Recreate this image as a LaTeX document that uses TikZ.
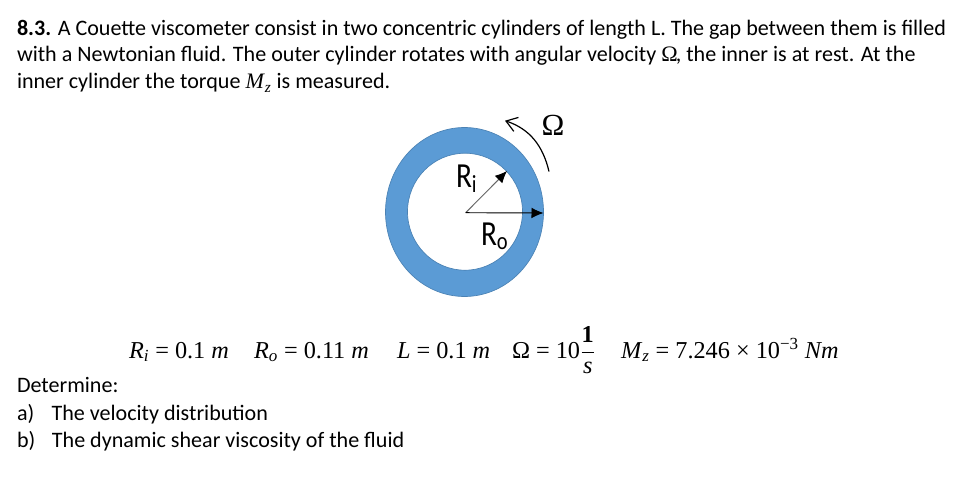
\documentclass[tikz,border=0pt]{standalone}
\usepackage{amsmath}
\usepackage{fontspec}
\usepackage{tikz}
\usetikzlibrary{arrows.meta}
\setmainfont{Carlito}
\newfontfamily\eqfont{Liberation Serif}
\definecolor{ringblue}{RGB}{91,155,213}
\definecolor{ringedge}{RGB}{75,130,180}
\newcommand{\qty}[2]{\textit{#1}\textsubscript{\textit{#2}}}

\begin{document}
\begin{tikzpicture}[
		x=0.75pt, y=-0.75pt,
		every node/.style={inner sep=0pt, outer sep=0pt},
		textline/.style={anchor=base west, font=\fontsize{16.55}{19}\selectfont},
		equation/.style={anchor=base west, font=\fontsize{18.2}{21}\selectfont\eqfont},
		radius label/.style={anchor=base west, font=\fontsize{22}{25}\selectfont},
		radius arrow/.style={-{Latex[black, length=9pt, width=8pt]}, black!60, line width=0.7pt},
		spin arrow/.style={-{Straight Barb[length=8pt, width=11pt]}, black, line width=0.9pt}
	]
  \useasboundingbox (0, 0) rectangle (959, 478);
  \node (line_1) [textline] at (17, 36) {\textbf{8.3.} A Couette viscometer consist in two concentric cylinders of length L. The gap between them is filled};
  \node (line_2) [textline] at (17, 62) {with a Newtonian fluid. The outer cylinder rotates with angular velocity {\eqfont Ω}\hspace{-1.5pt}, the inner is at rest. At the};
  \node (line_3) [textline] at (17, 89) {inner cylinder the torque {\eqfont\qty{M}{z}} is measured.};

  \filldraw [ringblue, draw=ringedge, line width=0.5pt, even odd rule] (464.5, 212) ellipse [x radius=79, y radius=84.5] (465, 211.7) ellipse [x radius=57.5, y radius=58.5];
  \coordinate (center) at (465.7, 212.7);
  \coordinate (r_i_tip) at (507, 171);
  \coordinate (r_o_tip) at (543.5, 213);
  \coordinate (spin_start) at (549, 171.5);
  \coordinate (spin_tip) at (505, 120.7);
  \draw [radius arrow] (center) -- (r_i_tip);
  \draw [radius arrow, black] (center) -- (r_o_tip);
  \draw [spin arrow] (spin_start) .. controls (543, 146) and (530, 129) .. (spin_tip);
  \node (omega) [font=\fontsize{23}{27}\selectfont\eqfont] at (553, 125) {Ω};
  \node (r_i) [radius label] at (456, 187) {\scalebox{1}[1.2]{R\textsubscript{i}}};
  \node (r_o) [radius label] at (481, 245) {\scalebox{1}[1.2]{R\textsubscript{o}}};

  \node (given_r_i) [equation] at (129, 358) {\qty{R}{i} = 0.1 \textit{m}};
  \node (given_r_o) [equation] at (254, 358) {\qty{R}{o} = 0.11 \textit{m}};
  \node (given_l) [equation] at (397, 358) {\textit{L} = 0.1 \textit{m}};
  \node (given_omega) [equation] at (512, 358) {Ω = 10$\dfrac{\text{\bfseries 1}}{\text{\itshape s}}$};
  \node (given_m) [equation] at (621, 358) {\qty{M}{z} = 7.246 × 10\textsuperscript{−3} \textit{Nm}};

  \node (determine) [textline] at (17, 392) {Determine:};
  \node (part_a) [textline] at (17, 420) {a)\hspace{13pt}The velocity distribution};
  \node (part_b) [textline] at (17, 447) {b)\hspace{12.5pt}The dynamic shear viscosity of the fluid};
\end{tikzpicture}
\end{document}
